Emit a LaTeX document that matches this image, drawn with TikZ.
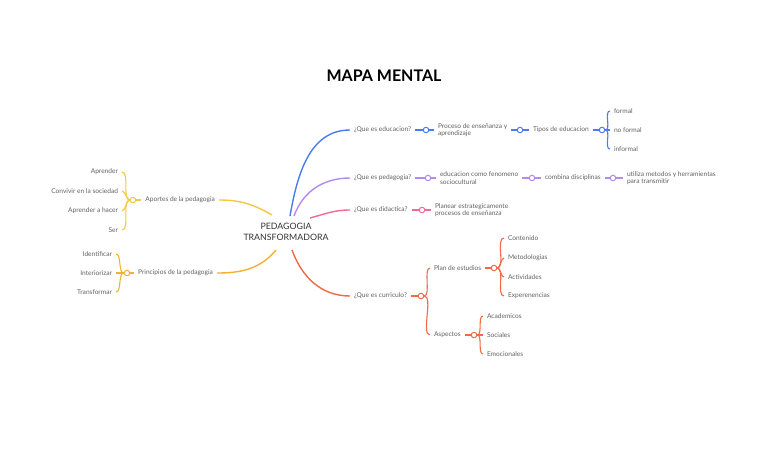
\documentclass[tikz,border=0pt]{standalone}
\usepackage{fontspec}
\setmainfont{Lato}
\begin{document}
\begin{tikzpicture}[x=1pt,y=-1pt,
 t/.style={font=\fontsize{6.6}{7.4}\selectfont,text=black!62,inner sep=1pt,outer sep=3pt,align=left},
 tl/.style={t,anchor=west},
 tr/.style={t,anchor=east,align=right},
 dot/.style={circle,draw=#1,fill=white,line width=1pt,inner sep=0pt,minimum size=5.5pt},
 br/.style={draw=#1,line width=1.1pt},
 bx/.style={draw=#1,line width=1.4pt}]
\useasboundingbox (0,0) rectangle (768,466);
\definecolor{cb}{HTML}{4A7CF0}\definecolor{cp}{HTML}{B58AF0}\definecolor{ck}{HTML}{F06A95}
\definecolor{cr}{HTML}{F26A45}\definecolor{cy}{HTML}{F5C842}\definecolor{co}{HTML}{F5B030}
\node[font=\bfseries\fontsize{16}{18}\selectfont] (title) at (384,76) {MAPA MENTAL};
\node[font=\fontsize{8.8}{10.5}\selectfont,text=black!80,align=center] (c) at (286,232) {PEDAGOGIA\\TRANSFORMADORA};
% blue
\node[tl] (e1) at (350,130) {¿Que es educacion?};
\node[dot=cb] (d1) at (426,130) {};
\node[tl] (e2) at (434,130) {Proceso de enseñanza y\\aprendizaje};
\node[dot=cb] (d2) at (520,130) {};
\node[tl] (e3) at (529,130) {Tipos de educacion};
\node[dot=cb] (d3) at (602,130) {};
\node[tl] (f1) at (610,111) {formal};
\node[tl] (f2) at (610,130) {no formal};
\node[tl] (f3) at (610,149) {informal};
\draw[bx=cb] (290,216) to[out=80,in=180] (e1.west);
\draw[br=cb] (e1.east) -- (d1) -- (e2.west);
\draw[br=cb] (e2.east) -- (d2) -- (e3.west);
\draw[br=cb] (e3.east) -- (d3);
\foreach \f in {f1,f2,f3}\draw[br=cb] (d3.east) to[out=0,in=180,looseness=0.8] (\f.west);
% purple
\node[tl] (p1) at (350,178) {¿Que es pedagogia?};
\node[dot=cp] (dp1) at (428,178) {};
\node[tl] (p2) at (436,178) {educacion como fenomeno\\sociocultural};
\node[dot=cp] (dp2) at (532,178) {};
\node[tl] (p3) at (541,178) {combina disciplinas};
\node[dot=cp] (dp3) at (613,178) {};
\node[tl] (p4) at (623,178) {utiliza metodos y herramientas\\para transmitir};
\draw[bx=cp] (294,216) to[out=70,in=180] (p1.west);
\draw[br=cp] (p1.east) -- (dp1) -- (p2.west);
\draw[br=cp] (p2.east) -- (dp2) -- (p3.west);
\draw[br=cp] (p3.east) -- (dp3) -- (p4.west);
% pink
\node[tl] (k1) at (350,210) {¿Que es didactica?};
\node[dot=ck] (dk1) at (422,210) {};
\node[tl] (k2) at (431,210) {Planear estrategicamente\\procesos de enseñanza};
\draw[bx=ck] (310,218) to[out=15,in=180] (k1.west);
\draw[br=ck] (k1.east) -- (dk1) -- (k2.west);
% red
\node[tl] (r1) at (350,296) {¿Que es curriculo?};
\node[dot=cr] (dr1) at (421,296) {};
\node[tl] (r2) at (430,268) {Plan de estudios};
\node[tl] (r3) at (430,335) {Aspectos};
\node[dot=cr] (dr2) at (494,268) {};
\node[dot=cr] (dr3) at (474,335) {};
\node[tl] (c1) at (504,238) {Contenido};
\node[tl] (c2) at (504,258) {Metodologias};
\node[tl] (c3) at (504,277) {Actividades};
\node[tl] (c4) at (504,296) {Experenencias};
\node[tl] (a1) at (483,316) {Academicos};
\node[tl] (a2) at (483,335) {Sociales};
\node[tl] (a3) at (483,354) {Emocionales};
\draw[bx=cr] (292,250) to[out=-70,in=180] (r1.west);
\draw[br=cr] (r1.east) -- (dr1);
\foreach \f in {r2,r3}\draw[br=cr] (dr1.east) to[out=0,in=180,looseness=0.6] (\f.west);
\draw[br=cr] (r2.east) -- (dr2);
\foreach \f in {c1,c2,c3,c4}\draw[br=cr] (dr2.east) to[out=0,in=180,looseness=0.7] (\f.west);
\draw[br=cr] (r3.east) -- (dr3);
\foreach \f in {a1,a2,a3}\draw[br=cr] (dr3.east) to[out=0,in=180,looseness=0.7] (\f.west);
% yellow
\node[t,anchor=east] (y1) at (219,200) {Aportes de la pedagogia};
\node[dot=cy] (dy1) at (133,200) {};
\node[tr] (y2) at (122,172) {Aprender};
\node[tr] (y3) at (122,191) {Convivir en la sociedad};
\node[tr] (y4) at (122,211) {Aprender a hacer};
\node[tr] (y5) at (122,230) {Ser};
\draw[bx=cy] (272,215) to[out=150,in=0] (y1.east);
\draw[br=cy] (y1.west) -- (dy1);
\foreach \f in {y2,y3,y4,y5}\draw[br=cy] (dy1.west) to[out=180,in=0,looseness=0.7] (\f.east);
% orange
\node[t,anchor=east] (o1) at (217,273) {Principios de la pedagogia};
\node[dot=co] (do1) at (127,273) {};
\node[tr] (o2) at (116,254) {Identificar};
\node[tr] (o3) at (116,273) {Interiorizar};
\node[tr] (o4) at (116,292) {Transformar};
\draw[bx=co] (276,250) to[out=-130,in=0] (o1.east);
\draw[br=co] (o1.west) -- (do1);
\foreach \f in {o2,o3,o4}\draw[br=co] (do1.west) to[out=180,in=0,looseness=0.7] (\f.east);
\end{tikzpicture}
\end{document}
